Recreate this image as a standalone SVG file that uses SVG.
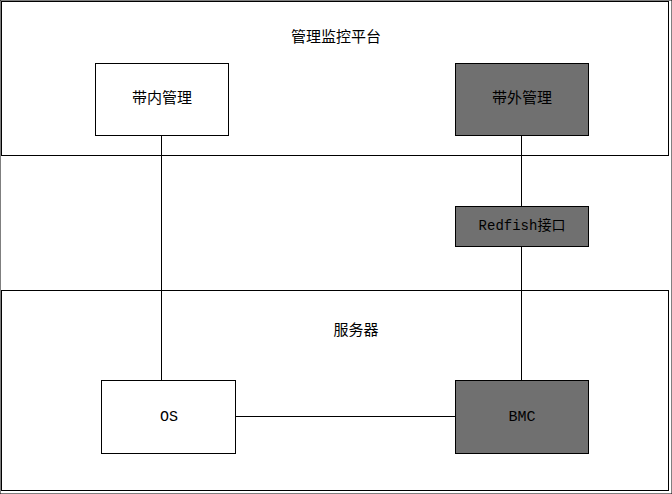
<svg xmlns="http://www.w3.org/2000/svg" width="672" height="494" viewBox="0 0 672 494">
<style>
rect{stroke:#000;stroke-width:1}
.w{fill:#fff}.g{fill:#707070}
text{font-family:"Liberation Mono","Noto Sans CJK SC",monospace;font-size:15px;text-anchor:middle;dominant-baseline:central;fill:#000}
line{stroke:#000;stroke-width:1}
</style>
<rect width="672" height="494" fill="#fff" stroke="none"/>
<g id="platform"><rect class="w" x="1.5" y="1.5" width="667" height="154"/><text x="336" y="38">管理监控平台</text></g>
<g id="server"><rect class="w" x="1.5" y="290.5" width="667" height="200"/><text x="356" y="331">服务器</text></g>
<g id="connectors">
<line x1="161.5" y1="135" x2="161.5" y2="380"/>
<line x1="521.5" y1="135" x2="521.5" y2="206"/>
<line x1="521.5" y1="246" x2="521.5" y2="380"/>
<line x1="235" y1="416.5" x2="455" y2="416.5"/>
</g>
<g id="inband"><rect class="w" x="95.5" y="63.5" width="133" height="72"/><text x="162" y="99">带内管理</text></g>
<g id="outband"><rect class="g" x="455.5" y="63.5" width="133" height="72"/><text x="522" y="99">带外管理</text></g>
<g id="redfish"><rect class="g" x="455.5" y="206.5" width="133" height="40"/><text x="522" y="226" style="font-size:14px">Redfish接口</text></g>
<g id="os"><rect class="w" x="101.5" y="380.5" width="134" height="73"/><text x="169" y="417">OS</text></g>
<g id="bmc"><rect class="g" x="455.5" y="380.5" width="133" height="73"/><text x="522" y="417">BMC</text></g>
</svg>
